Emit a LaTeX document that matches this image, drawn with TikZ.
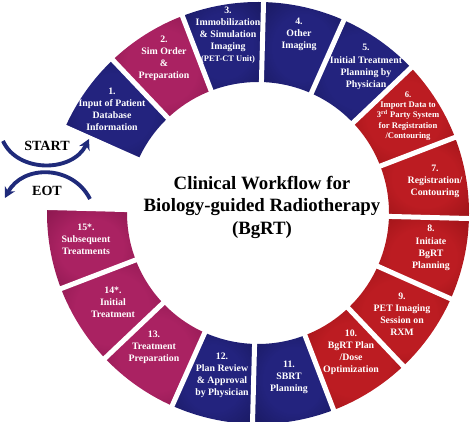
\documentclass[tikz,border=0pt]{standalone}
\usepackage{fontspec}
\setmainfont{Liberation Serif}
\usepackage{xcolor}
\usetikzlibrary{calc}
\usetikzlibrary{arrows.meta}

\definecolor{navyA}{HTML}{23237E}
\definecolor{navyB}{HTML}{0A0A33}
\definecolor{plumA}{HTML}{AA2262}
\definecolor{plumB}{HTML}{5A0630}
\definecolor{redA}{HTML}{BC1C22}
\definecolor{redB}{HTML}{6A0608}
\definecolor{arrowblue}{HTML}{1F2A7A}
\colorlet{segA}{navyA}
\colorlet{segB}{navyB}
\pgfdeclareradialshading[segA,segB]{segment}{\pgfpoint{0bp}{0bp}}{color(0bp)=(segA); color(18bp)=(segA); color(62bp)=(segB); color(80bp)=(segB)}

\tikzset{
  seglabel/.style={text=white, font=\bfseries\fontsize{5.6}{6.9}\selectfont},
  title/.style={font=\bfseries\fontsize{10.7}{12.8}\selectfont},
  endlabel/.style={font=\bfseries\fontsize{8}{9}\selectfont},
  loop/.style={draw=arrowblue, line width=2.2pt}
}

\begin{document}
\begin{tikzpicture}[every text node part/.style={align=center}, >={Stealth[length=6pt,width=6.5pt]}]
  \useasboundingbox (0,0) rectangle (9.48,8.44);
  \coordinate (c) at (5.16,4.18);
  \def\ringout{4.22}
  \def\ringin{2.62}

  % Ring
  \foreach \k/\col in {1/navy,2/plum,3/navy,4/navy,5/navy,6/red,7/red,8/red,9/red,10/red,11/navy,12/navy,13/plum,14/plum,15/plum}{
    \pgfmathsetmacro\aa{156-(\k-1)*22.5}
    \pgfmathsetmacro\ab{\aa-22.5}
    \colorlet{segA}{\col A}
    \colorlet{segB}{\col B}
    \shade[shading=segment] ($(c)+(\aa:\ringout)$) arc[start angle=\aa, end angle=\ab, radius=\ringout]
      -- ($(c)+(\ab:\ringin)$) arc[start angle=\ab, end angle=\aa, radius=\ringin] -- cycle;
  }
  \foreach \k in {0,...,15}{
    \pgfmathsetmacro\aa{156-\k*22.5}
    \draw[white, line width=0.1cm] ($(c)+(\aa:2.5)$) -- ($(c)+(\aa:4.32)$);
  }

  % Steps
  \node[seglabel] (input) at (2.24,6.26) {1.\\Input of Patient\\Database\\Information};
  \node[seglabel] (simorder) at (3.28,7.28) {2.\\Sim Order\\\&\\Preparation};
  \node[seglabel] (immob) at (4.56,7.74) {3.\\Immobilization\\\& Simulation\\Imaging\\{\fontsize{4.8}{5.8}\selectfont(PET-CT Unit)}};
  \node[seglabel] (other) at (5.98,7.76) {4.\\Other\\Imaging};
  \node[seglabel] (initplan) at (7.32,7.10) {5.\\Initial Treatment\\Planning by\\Physician};
  \node[seglabel, font=\bfseries\fontsize{4.9}{5.8}\selectfont] (import) at (8.16,6.12) {6.\\Import Data to\\3\textsuperscript{rd} Party System\\for Registration\\/Contouring};
  \node[seglabel] (reg) at (8.70,4.82) {7.\\Registration/\\Contouring};
  \node[seglabel] (bgrt) at (8.62,3.48) {8.\\Initiate\\BgRT\\Planning};
  \node[seglabel] (pet) at (8.04,2.16) {9.\\PET Imaging\\Session on\\RXM};
  \node[seglabel] (dose) at (7.02,1.40) {10.\\BgRT Plan\\/Dose\\Optimization};
  \node[seglabel] (sbrt) at (5.78,0.90) {11.\\SBRT\\Planning};
  \node[seglabel] (review) at (4.44,0.94) {12.\\Plan Review\\\& Approval\\by Physician};
  \node[seglabel] (prep) at (3.08,1.50) {13.\\Treatment\\Preparation};
  \node[seglabel] (first) at (2.26,2.40) {14*.\\Initial\\Treatment};
  \node[seglabel] (later) at (1.72,3.66) {15*.\\Subsequent\\Treatments};

  \node[title] (title) at (5.24,4.30) {Clinical Workflow for\\Biology-guided Radiotherapy\\(BgRT)};

  % Start / end of treatment
  \node[endlabel] (start) at (0.94,5.52) {START};
  \node[endlabel] (eot) at (0.94,4.62) {EOT};
  \coordinate (startin) at (0.06,5.62);
  \coordinate (startout) at (1.78,5.66);
  \coordinate (eotin) at (1.80,4.46);
  \coordinate (eotout) at (0.10,4.48);
  \draw[loop, ->] (startin) .. controls (0.35,4.98) and (1.45,4.98) .. (startout);
  \draw[loop, ->] (eotin) .. controls (1.45,5.15) and (0.45,5.15) .. (eotout);

\end{tikzpicture}
\end{document}
